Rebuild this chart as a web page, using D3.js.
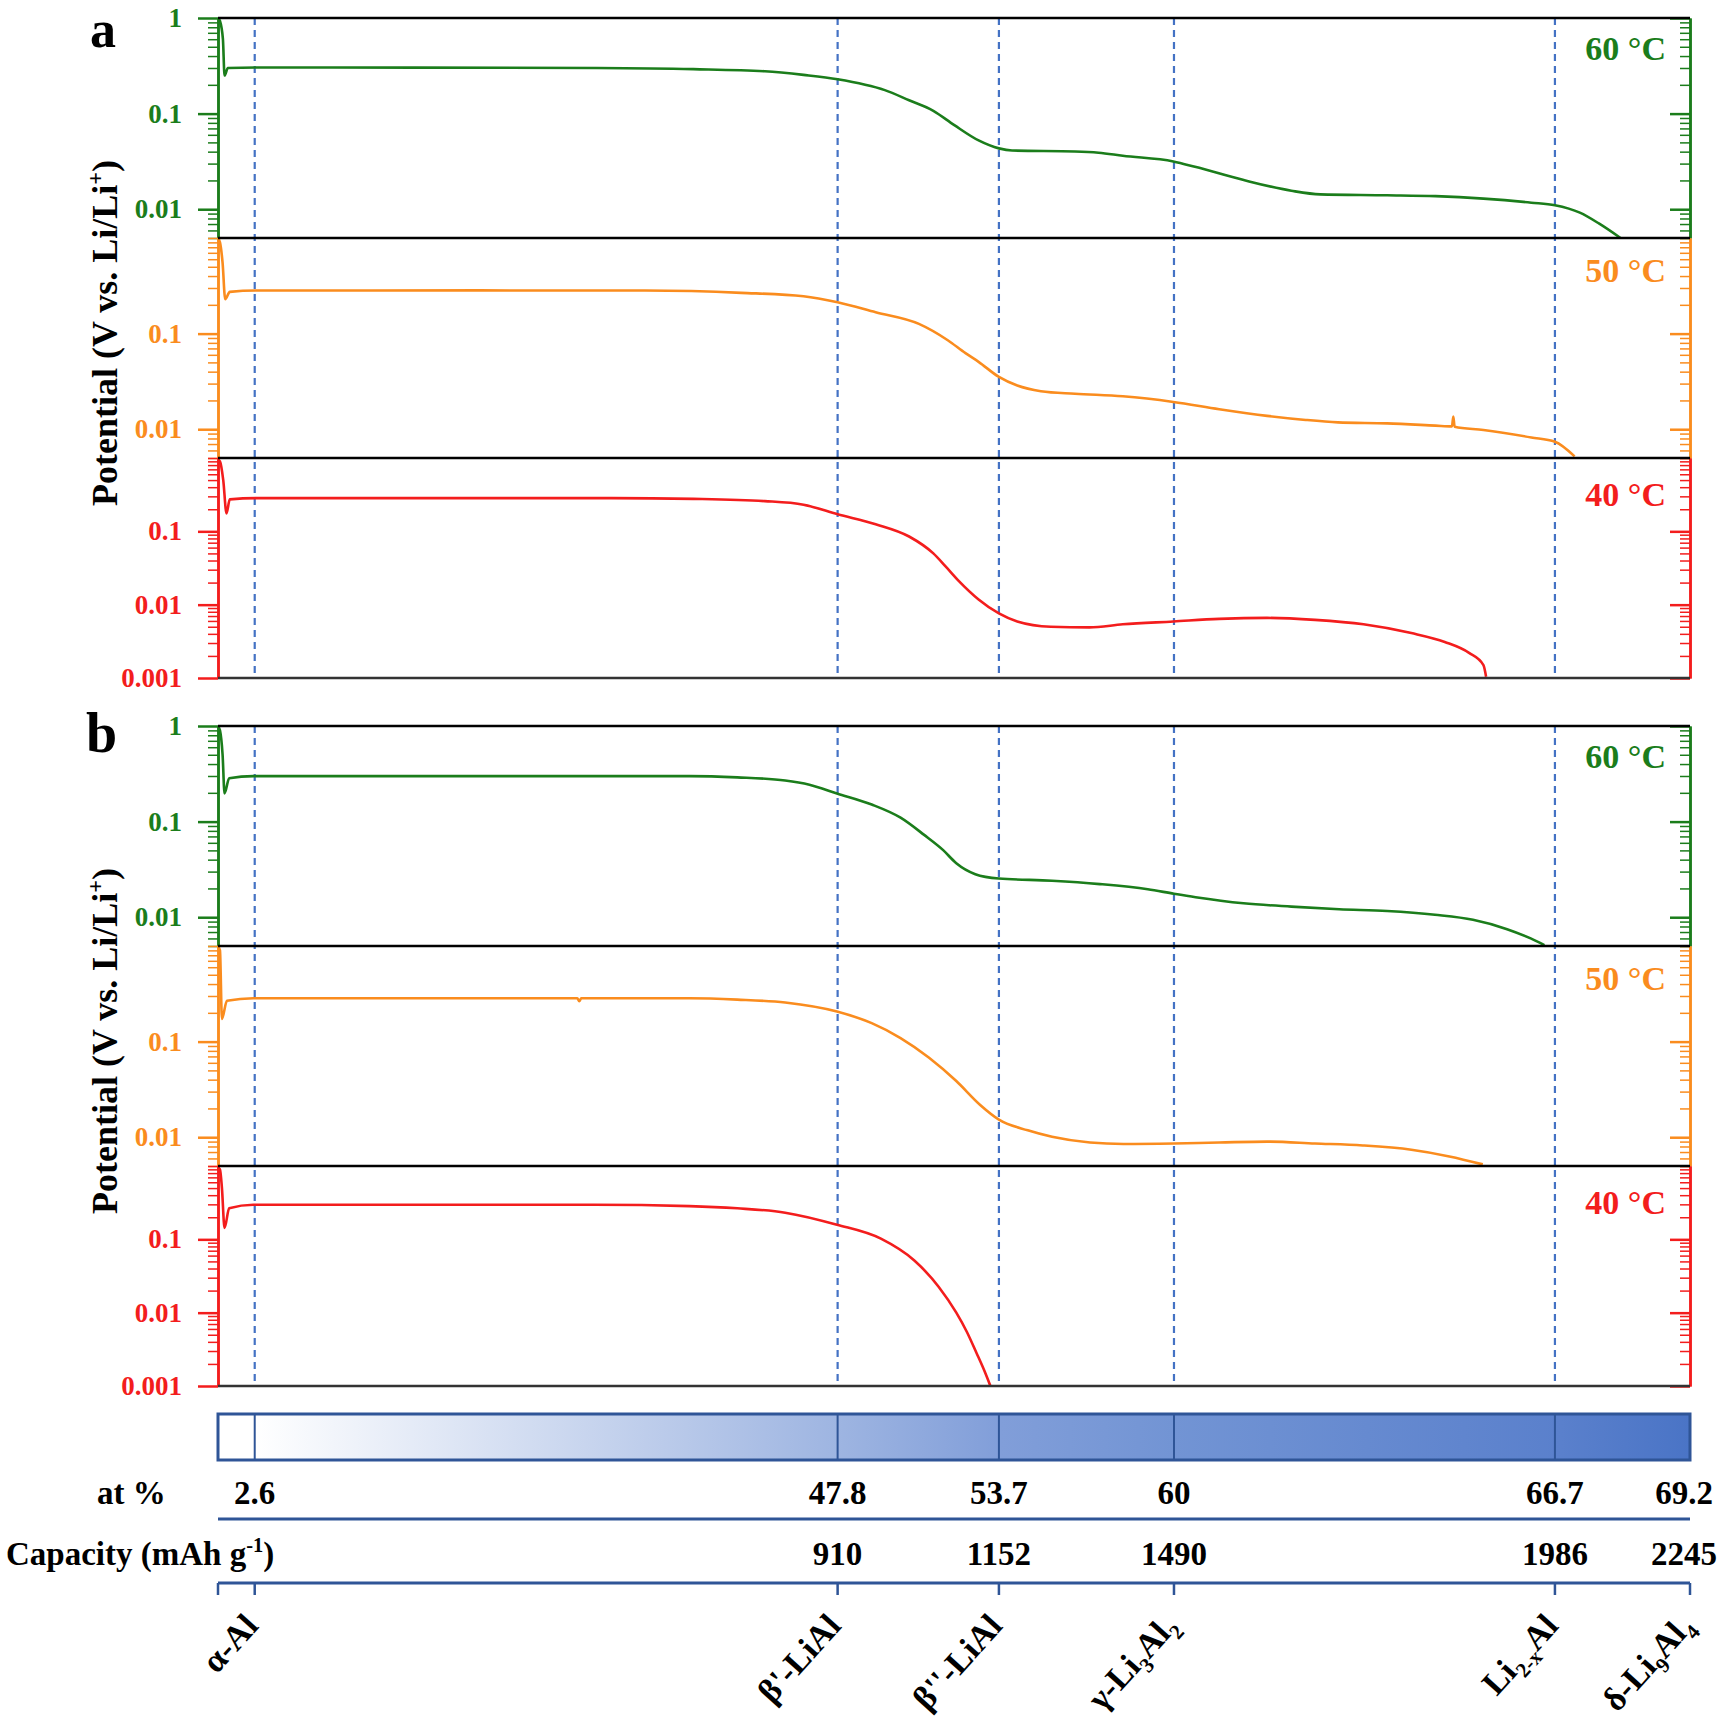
<!DOCTYPE html>
<html>
<head>
<meta charset="utf-8">
<script src="https://cdn.jsdelivr.net/npm/d3@7"></script>
<style>
  body { margin: 0; background: #fff; }
</style>
</head>
<body>
<svg id="chart"></svg>
<script>
// ---- data (x in plot units of capacity, y in V) ----
const capMax = 2245;
const boundaryPos = [56, 945, 1191, 1458, 2039];   // dashed phase boundaries
const atPercent = ['2.6', '47.8', '53.7', '60', '66.7', '69.2'];
const capacityLabels = ['', '910', '1152', '1490', '1986', '2245'];
const phaseLabels = [
  [['α-Al']],
  [["β'-LiAl"]],
  [["β''-LiAl"]],
  [['γ-Li'], ['3', 'sub'], ['Al'], ['2', 'sub']],
  [['Li'], ['2-x', 'sub'], ['Al']],
  [['δ-Li'], ['9', 'sub'], ['Al'], ['4', 'sub']]
];

const temps = ['60 °C', '50 °C', '40 °C'];
const tempColors = ['#1b7d1b', '#fa8c1e', '#f31d1d'];
const yDomains = [[0.005, 1], [0.005, 1], [0.001, 1]];
const majorTicks = [[1, 0.1, 0.01], [0.1, 0.01], [0.1, 0.01, 0.001]];

// panel a
const a60 = [[0, 1.0], [3, 0.93], [7.5, 0.6], [10, 0.25], [15, 0.30], [58, 0.304], [300, 0.303],
  [578, 0.300], [725, 0.292], [834, 0.277], [893, 0.254], [945, 0.229], [1017, 0.176], [1054, 0.138],
  [1091, 0.107], [1123, 0.0757], [1160, 0.0524], [1191, 0.0433], [1211, 0.0411], [1307, 0.0402],
  [1343, 0.0390], [1380, 0.0362], [1457, 0.0316], [1490, 0.0278], [1563, 0.0203], [1637, 0.0156],
  [1681, 0.0143], [1783, 0.0140], [1857, 0.0137], [1930, 0.0129], [2003, 0.0117], [2039, 0.0110],
  [2077, 0.0092], [2106, 0.0071], [2139, 0.0050]];
const a50 = [[0, 1.0], [3, 0.9], [7, 0.55], [11, 0.229], [18, 0.273], [58, 0.282], [400, 0.283],
  [651, 0.282], [798, 0.267], [893, 0.246], [945, 0.213], [1003, 0.1675], [1069, 0.1265],
  [1113, 0.0853], [1140, 0.0624], [1160, 0.0507], [1191, 0.0352], [1219, 0.0286], [1255, 0.0250],
  [1307, 0.0235], [1380, 0.0221], [1457, 0.0193], [1527, 0.0162], [1600, 0.0138], [1659, 0.0125],
  [1708, 0.0118], [1783, 0.0115], [1857, 0.0109], [1882, 0.0107], [1884, 0.0136], [1886, 0.0106],
  [1930, 0.0098], [2003, 0.0082], [2039, 0.0074], [2069, 0.0052]];
const a40 = [[0, 0.95], [3, 0.9], [8, 0.5], [13, 0.176], [18, 0.273], [58, 0.284], [600, 0.284],
  [725, 0.277], [834, 0.258], [893, 0.231], [945, 0.171], [1003, 0.125], [1054, 0.085],
  [1091, 0.050], [1110, 0.033], [1130, 0.021], [1160, 0.0118], [1191, 0.0076], [1219, 0.0059],
  [1270, 0.0050], [1329, 0.0049], [1380, 0.0054], [1457, 0.0059], [1527, 0.0064], [1600, 0.0066],
  [1673, 0.0062], [1747, 0.0054], [1820, 0.0041], [1871, 0.0031], [1908, 0.0022], [1930, 0.0015],
  [1934, 0.00104]];

// panel b
const b60 = [[0, 1.0], [3, 0.9], [7, 0.5], [10, 0.197], [17, 0.284], [54, 0.299], [573, 0.299],
  [719, 0.299], [792, 0.290], [865, 0.269], [902, 0.243], [944, 0.197], [997, 0.151], [1041, 0.110],
  [1077, 0.0726], [1106, 0.0503], [1126, 0.0367], [1155, 0.0282], [1191, 0.0254], [1272, 0.0241],
  [1345, 0.0222], [1418, 0.0196], [1458, 0.0176], [1491, 0.0162], [1564, 0.0140], [1637, 0.0129],
  [1710, 0.0121], [1783, 0.0116], [1856, 0.0106], [1914, 0.0094], [1966, 0.0075], [2002, 0.0060],
  [2023, 0.0051]];
const b50 = [[0, 1.0], [3, 0.9], [6, 0.173], [13.6, 0.267], [54, 0.284], [548, 0.284], [551, 0.265],
  [554, 0.284], [719, 0.284], [792, 0.275], [865, 0.256], [944, 0.206], [997, 0.156], [1041, 0.109],
  [1084, 0.0683], [1126, 0.0387], [1162, 0.0219], [1191, 0.0153], [1235, 0.0118], [1272, 0.0101],
  [1330, 0.0088], [1381, 0.0085], [1458, 0.0086], [1527, 0.0088], [1600, 0.0090], [1673, 0.0086],
  [1746, 0.0082], [1820, 0.0074], [1878, 0.0063], [1929, 0.0052]];
const b40 = [[0, 0.95], [3, 0.9], [6, 0.5], [10, 0.143], [17, 0.265], [54, 0.296], [573, 0.296],
  [719, 0.284], [792, 0.265], [865, 0.231], [944, 0.158], [1011, 0.102], [1062, 0.0514],
  [1099, 0.0226], [1126, 0.0100], [1142, 0.0055], [1157, 0.0028], [1169, 0.0016], [1178, 0.001]];

const panels = [
  {letter: 'a', series: [a60, a50, a40]},
  {letter: 'b', series: [b60, b50, b40]}
];

// ---- layout ----
const width = 1725, height = 1720;
const serif = "'Liberation Serif', 'Times New Roman', serif";
const plotLeft = 218, plotRight = 1690;
const panelTops = [18, 726];
const rowH = 220;
const tempOffsets = [42, 44, 48];
const blue = '#2f5597', dashBlue = '#4472c4';

const svg = d3.select('#chart')
  .attr('width', width)
  .attr('height', height)
  .style('font-family', serif)
  .style('font-weight', 'bold');

const x = d3.scaleLinear().domain([0, capMax]).range([plotLeft, plotRight]);

// text with sub/superscripts
const richText = (sel, segs, fs) => {
  let shift = 0;
  segs.forEach(([t, kind]) => {
    const want = kind === 'sub' ? 0.25 * fs : kind === 'sup' ? -0.4 * fs : 0;
    sel.append('tspan')
      .attr('dy', want - shift)
      .attr('font-size', kind ? fs * 0.62 : fs)
      .text(t);
    shift = want;
  });
};

panels.forEach((p, pi) => {
  const top = panelTops[pi];
  const g = svg.append('g');

  // dashed phase boundaries
  g.selectAll('line.phase')
    .data(boundaryPos)
    .enter().append('line')
    .attr('x1', (d) => x(d)).attr('x2', (d) => x(d))
    .attr('y1', top).attr('y2', top + rowH * 3)
    .attr('stroke', dashBlue)
    .attr('stroke-width', 2.2)
    .attr('stroke-dasharray', '7,5');

  p.series.forEach((data, i) => {
    const y0 = top + rowH * i;
    const color = tempColors[i];
    const y = d3.scaleLog().domain(yDomains[i]).range([y0 + rowH, y0]);

    const line = d3.line()
      .curve(d3.curveMonotoneX)
      .x((d) => x(d[0]))
      .y((d) => y(d[1]));

    g.append('path')
      .datum(data)
      .attr('fill', 'none')
      .attr('stroke', color)
      .attr('stroke-width', 2.6)
      .attr('stroke-linejoin', 'round')
      .attr('d', line);

    const minor = y.ticks().filter((t) => majorTicks[i].indexOf(+t.toPrecision(3)) === -1);

    // left axis: outward ticks with labels
    const left = g.append('g').attr('transform', 'translate(' + plotLeft + ',0)');
    left.call(d3.axisLeft(y).tickValues(minor).tickSize(10).tickSizeOuter(0).tickFormat(''));
    left.call((s) => s.selectAll('.tick line').attr('stroke-width', 1.5));
    const leftMajor = g.append('g').attr('transform', 'translate(' + plotLeft + ',0)');
    leftMajor.call(d3.axisLeft(y).tickValues(majorTicks[i]).tickSize(20).tickSizeOuter(0)
      .tickPadding(16).tickFormat((d) => String(d)));
    leftMajor.selectAll('text')
      .attr('font-size', 27)
      .attr('font-family', serif)
      .attr('font-weight', 'bold')
      .attr('fill', color);

    // right axis: inward ticks, no labels
    const right = g.append('g').attr('transform', 'translate(' + plotRight + ',0)');
    right.call(d3.axisLeft(y).tickValues(minor).tickSize(10).tickSizeOuter(0).tickFormat(''));
    right.call((s) => s.selectAll('.tick line').attr('stroke-width', 1.5));
    const rightMajor = g.append('g').attr('transform', 'translate(' + plotRight + ',0)');
    rightMajor.call(d3.axisLeft(y).tickValues(majorTicks[i]).tickSize(20).tickSizeOuter(0).tickFormat(''));

    [left, leftMajor, right, rightMajor].forEach((a) => {
      a.select('.domain').attr('stroke', color).attr('stroke-width', 2.5);
      a.selectAll('.tick line').attr('stroke', color);
      a.selectAll('.tick').filter((d) => majorTicks[i].indexOf(d) !== -1)
        .select('line').attr('stroke-width', 2.5);
    });

    g.append('text')
      .attr('x', plotRight - 24)
      .attr('y', y0 + tempOffsets[i])
      .attr('text-anchor', 'end')
      .attr('font-size', 34)
      .attr('fill', color)
      .text(temps[i]);
  });

  // black frame lines
  g.selectAll('line.frame')
    .data(d3.range(4))
    .enter().append('line')
    .attr('x1', plotLeft).attr('x2', plotRight)
    .attr('y1', (k) => top + rowH * k).attr('y2', (k) => top + rowH * k)
    .attr('stroke', (k) => (k === 3 ? '#333' : '#000'))
    .attr('stroke-width', 2.5);

  g.append('text')
    .attr('x', pi === 0 ? 90 : 86)
    .attr('y', top + (pi === 0 ? 29 : 26))
    .attr('font-size', pi === 0 ? 52 : 56)
    .text(p.letter);

  const title = g.append('text')
    .attr('transform', 'translate(117,' + (top + 315) + ') rotate(-90)')
    .attr('text-anchor', 'middle');
  richText(title, [['Potential (V vs. Li/Li'], ['+', 'sup'], [')']], 36);
});

// ---- phase bar and composition / capacity scales ----
const barTop = 1414, barH = 46;
const labelPos = boundaryPos.concat([capMax]);
// the last column of numbers sits a little inside the right edge
const labelX = (i) => x(labelPos[i]) - (i === labelPos.length - 1 ? 6 : 0);

const defs = svg.append('defs');
const grad = defs.append('linearGradient')
  .attr('id', 'phaseGrad')
  .attr('gradientUnits', 'userSpaceOnUse')
  .attr('x1', x(boundaryPos[0])).attr('x2', x(capMax))
  .attr('y1', 0).attr('y2', 0);
[[0, '#ffffff'], [0.41, '#9db4e1'], [0.52, '#819ed9'], [0.64, '#7294d4'], [0.91, '#5a80cc'], [1, '#4a74c6']]
  .forEach(([o, c]) => grad.append('stop').attr('offset', o).attr('stop-color', c));

svg.append('rect')
  .attr('x', x(boundaryPos[0])).attr('y', barTop)
  .attr('width', x(capMax) - x(boundaryPos[0])).attr('height', barH)
  .attr('fill', 'url(#phaseGrad)');
svg.append('rect')
  .attr('x', x(0)).attr('y', barTop)
  .attr('width', x(capMax) - x(0)).attr('height', barH)
  .attr('fill', 'none').attr('stroke', blue).attr('stroke-width', 3);
svg.selectAll('line.sep')
  .data(boundaryPos)
  .enter().append('line')
  .attr('x1', (d) => x(d)).attr('x2', (d) => x(d))
  .attr('y1', barTop).attr('y2', barTop + barH)
  .attr('stroke', blue).attr('stroke-width', 2);

svg.append('text').attr('x', 97).attr('y', 1504).attr('font-size', 33).text('at %');
svg.selectAll('text.at')
  .data(atPercent)
  .enter().append('text')
  .attr('x', (d, i) => labelX(i))
  .attr('y', 1504)
  .attr('text-anchor', 'middle')
  .attr('font-size', 33)
  .text((d) => d);

svg.append('line')
  .attr('x1', x(0)).attr('x2', x(capMax))
  .attr('y1', 1519).attr('y2', 1519)
  .attr('stroke', blue).attr('stroke-width', 3);

const capTitle = svg.append('text').attr('x', 6).attr('y', 1565);
richText(capTitle, [['Capacity (mAh g'], ['-1', 'sup'], [')']], 33);
svg.selectAll('text.cap')
  .data(capacityLabels)
  .enter().append('text')
  .attr('x', (d, i) => labelX(i))
  .attr('y', 1565)
  .attr('text-anchor', 'middle')
  .attr('font-size', 33)
  .text((d) => d);

svg.append('line')
  .attr('x1', x(0)).attr('x2', x(capMax))
  .attr('y1', 1583).attr('y2', 1583)
  .attr('stroke', blue).attr('stroke-width', 3);
svg.selectAll('line.ptick')
  .data([0].concat(labelPos))
  .enter().append('line')
  .attr('x1', (d) => x(d)).attr('x2', (d) => x(d))
  .attr('y1', 1583).attr('y2', 1595)
  .attr('stroke', blue).attr('stroke-width', 2.5);

phaseLabels.forEach((segs, i) => {
  const t = svg.append('text')
    .attr('transform', 'translate(' + (x(labelPos[i]) + 5) + ',1627) rotate(-48)')
    .attr('text-anchor', 'end');
  richText(t, segs, 34);
});
</script>
</body>
</html>
